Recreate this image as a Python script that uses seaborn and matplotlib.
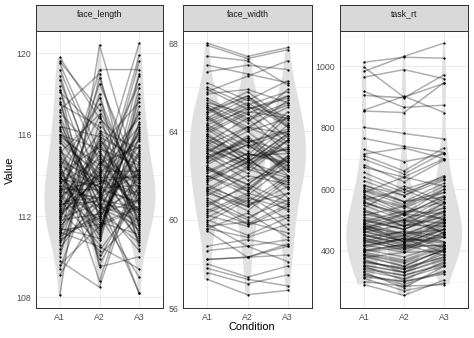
import numpy as np
import pandas as pd
import matplotlib
matplotlib.use("Agg")
import matplotlib.pyplot as plt
import seaborn as sns
from matplotlib.ticker import MultipleLocator

conditions = ["A1", "A2", "A3"]
measures = ["face_length", "face_width", "task_rt"]

face_length_A1 = [
    113.2, 116.0, 111.4, 119.6, 112.5, 114.8, 110.2, 113.9, 117.2, 112.1,
    115.3, 109.4, 113.5, 111.9, 118.4, 114.2, 112.8, 116.7, 110.9, 113.0,
    114.5, 111.2, 119.8, 112.3, 115.9, 113.7, 108.1, 116.3, 112.0, 114.1,
    117.8, 111.6, 113.3, 115.0, 110.6, 112.7, 118.9, 114.4, 111.0, 113.6,
    116.9, 112.2, 109.8, 114.7, 113.1, 117.5, 111.8, 115.6, 112.9, 110.4,
    114.0, 119.2, 112.6, 116.4, 111.3, 113.8, 115.1, 109.1, 112.4, 114.3,
    118.1, 111.5, 113.4, 116.0, 110.7, 112.5, 115.8, 113.0, 117.1, 111.1,
    114.6, 112.2, 118.7, 113.9, 110.0, 115.4, 112.0, 116.2, 111.7, 113.5,
    119.5, 112.8, 114.9, 111.4, 117.6, 113.2, 110.8, 115.2, 112.3, 114.1,
    116.6, 111.9, 113.7, 109.6, 115.7, 112.6, 118.2, 114.5, 111.2, 113.3]
face_length_A2 = [
    112.9, 114.3, 110.9, 117.2, 113.6, 111.5, 115.8, 112.2, 119.0, 113.9,
    111.0, 114.7, 116.1, 112.6, 109.6, 113.2, 115.2, 112.0, 118.8, 114.0,
    113.4, 110.5, 116.8, 112.8, 114.5, 111.7, 120.4, 113.1, 115.5, 112.4,
    109.5, 114.2, 113.7, 111.2, 116.0, 112.9, 113.3, 117.5, 111.9, 114.8,
    112.5, 115.0, 108.5, 113.8, 111.4, 116.4, 112.1, 114.1, 118.5, 113.0,
    110.8, 114.6, 112.7, 115.9, 111.6, 113.5, 117.0, 112.3, 114.4, 110.1,
    116.2, 113.2, 111.8, 115.3, 112.6, 119.2, 113.9, 111.1, 114.9, 112.0,
    108.8, 115.6, 113.6, 112.4, 116.6, 111.3, 114.0, 113.1, 118.0, 112.8,
    115.1, 110.6, 113.4, 114.3, 111.9, 116.9, 112.2, 113.7, 110.3, 115.4,
    112.5, 114.6, 117.8, 111.5, 113.0, 115.7, 112.9, 109.9, 114.1, 113.3]
face_length_A3 = [
    114.1, 112.3, 119.0, 113.6, 110.8, 115.9, 112.7, 116.5, 111.4, 113.9,
    118.3, 112.1, 114.6, 110.3, 113.2, 117.1, 111.8, 115.2, 112.9, 120.5,
    113.5, 109.4, 114.9, 112.4, 116.8, 111.1, 113.8, 118.9, 112.6, 115.5,
    110.0, 114.2, 113.0, 117.4, 111.6, 116.1, 108.2, 113.4, 115.0, 112.2,
    119.6, 111.9, 114.4, 113.1, 116.3, 110.6, 112.8, 115.7, 114.0, 111.3,
    117.8, 113.6, 108.2, 114.8, 112.5, 116.0, 111.0, 113.3, 118.5, 112.0,
    115.3, 110.9, 113.9, 114.5, 112.3, 119.2, 111.7, 116.6, 113.1, 109.0,
    114.7, 112.8, 117.0, 111.5, 113.7, 115.8, 112.1, 114.3, 110.4, 116.2,
    113.4, 118.0, 112.6, 111.2, 115.1, 113.8, 110.7, 114.0, 112.9, 117.6,
    111.8, 115.4, 113.2, 112.4, 119.9, 114.2, 111.6, 113.5, 116.4, 112.7]

face_width_A1 = [
    63.2, 65.1, 60.4, 67.9, 62.5, 59.6, 64.3, 61.2, 63.8, 57.6,
    64.9, 62.0, 66.2, 60.9, 63.4, 61.8, 65.5, 59.8, 62.9, 64.1,
    58.2, 63.0, 65.8, 61.4, 62.3, 68.0, 60.2, 64.6, 63.5, 61.0,
    62.7, 59.5, 65.2, 63.9, 60.7, 64.4, 57.3, 62.2, 66.7, 61.6,
    63.3, 64.8, 60.0, 62.6, 65.0, 58.8, 63.7, 61.3, 64.0, 62.4,
    67.4, 60.5, 63.1, 65.4, 61.9, 59.7, 64.2, 62.8, 58.0, 63.6,
    61.5, 65.7, 62.1, 60.3, 64.7, 63.0, 57.8, 62.9, 65.3, 61.1,
    63.4, 59.9, 64.5, 62.3, 67.0, 60.8, 63.8, 61.7, 64.9, 58.6,
    62.6, 65.9, 61.3, 63.2, 60.1, 64.1, 62.0, 59.6, 65.1, 63.5,
    61.8, 64.3, 60.6, 62.8, 66.0, 61.4, 63.9, 58.2, 62.4, 64.6]
face_width_A2 = [
    62.5, 64.0, 61.2, 67.3, 63.4, 59.2, 65.0, 60.6, 62.7, 57.1,
    65.6, 61.3, 65.4, 59.8, 64.2, 62.6, 64.6, 58.8, 63.5, 62.9,
    58.3, 62.1, 66.5, 62.4, 61.4, 67.4, 59.7, 63.5, 64.6, 60.1,
    63.8, 58.3, 64.4, 62.7, 61.5, 65.2, 56.6, 63.0, 67.0, 60.7,
    62.4, 65.6, 59.3, 63.7, 64.1, 59.1, 62.5, 62.3, 64.9, 61.3,
    67.2, 59.8, 64.0, 64.5, 62.8, 59.9, 63.1, 63.6, 57.4, 62.9,
    60.8, 65.9, 63.0, 61.1, 63.5, 64.2, 57.3, 61.8, 64.8, 62.0,
    62.6, 60.9, 65.3, 61.6, 66.6, 60.0, 62.9, 62.6, 65.8, 58.8,
    63.4, 65.0, 60.4, 62.3, 61.0, 65.1, 61.1, 60.3, 64.2, 62.6,
    62.8, 63.3, 61.6, 63.7, 65.2, 60.6, 64.8, 58.3, 61.6, 65.5]
face_width_A3 = [
    63.6, 64.6, 60.7, 67.7, 62.3, 59.8, 65.6, 61.5, 63.2, 57.5,
    64.2, 62.7, 66.3, 60.2, 63.9, 61.0, 65.3, 59.1, 62.4, 64.7,
    58.4, 63.6, 67.2, 61.9, 62.8, 67.8, 60.6, 64.1, 63.0, 60.9,
    62.2, 58.9, 65.9, 64.3, 60.4, 63.7, 56.8, 62.6, 66.8, 61.2,
    63.8, 64.4, 60.1, 62.0, 65.4, 58.8, 63.3, 61.7, 64.6, 62.9,
    66.1, 60.7, 62.6, 65.2, 61.5, 59.4, 64.9, 63.1, 57.9, 63.0,
    62.0, 65.3, 62.5, 60.0, 64.0, 63.4, 57.0, 62.3, 65.6, 61.6,
    63.9, 59.6, 64.2, 62.8, 66.2, 61.2, 63.2, 62.0, 64.5, 58.1,
    62.2, 65.5, 61.8, 63.6, 60.5, 64.7, 62.5, 59.2, 65.1, 63.9,
    61.4, 64.0, 60.8, 62.6, 65.8, 61.9, 63.5, 58.8, 62.9, 64.3]

task_rt_A1 = [
    1014, 998, 984, 965, 919, 906, 858, 855, 802, 766,
    480, 615, 372, 540, 455, 698, 405, 560, 330, 470,
    590, 420, 505, 365, 640, 486, 398, 528, 310, 445,
    572, 468, 380, 655, 515, 435, 350, 598, 475, 410,
    730, 452, 362, 535, 495, 290, 612, 425, 585, 388,
    462, 672, 345, 500, 415, 548, 378, 605, 440, 320,
    482, 565, 395, 628, 430, 355, 520, 472, 300, 575,
    442, 710, 402, 555, 490, 335, 595, 460, 385, 680,
    418, 510, 352, 580, 478, 325, 530, 465, 390, 715,
    432, 488, 368, 560, 450, 340, 498, 400, 315, 476]
task_rt_A2 = [
    1030, 900, 1033, 990, 867, 898, 903, 850, 782, 740,
    455, 560, 330, 610, 420, 650, 380, 505, 280, 520,
    640, 395, 470, 340, 590, 430, 410, 480, 270, 462,
    520, 500, 350, 600, 545, 400, 305, 560, 430, 440,
    690, 415, 345, 480, 530, 255, 580, 450, 525, 360,
    430, 640, 320, 470, 440, 500, 395, 560, 410, 300,
    450, 600, 370, 580, 465, 330, 490, 440, 285, 540,
    410, 660, 420, 520, 455, 310, 550, 485, 350, 625,
    440, 480, 330, 545, 500, 290, 495, 430, 365, 735,
    405, 520, 340, 515, 425, 320, 470, 420, 300, 445]
task_rt_A3 = [
    1027, 945, 1076, 960, 874, 973, 850, 947, 764, 720,
    500, 590, 400, 560, 480, 720, 420, 540, 350, 455,
    610, 445, 530, 390, 635, 470, 420, 555, 295, 430,
    600, 490, 405, 640, 500, 460, 365, 575, 495, 425,
    715, 470, 380, 510, 520, 305, 630, 410, 560, 400,
    485, 700, 360, 525, 395, 570, 400, 620, 455, 330,
    505, 545, 415, 645, 445, 375, 540, 490, 290, 590,
    460, 735, 385, 575, 470, 350, 610, 480, 405, 695,
    430, 530, 370, 600, 460, 335, 555, 445, 410, 700,
    450, 505, 380, 580, 470, 355, 515, 415, 325, 495]

y_ticks = {
    "face_length": [108, 112, 116, 120],
    "face_width": [56, 60, 64, 68],
    "task_rt": [400, 600, 800, 1000],
}

series = {
    "face_length": [face_length_A1, face_length_A2, face_length_A3],
    "face_width": [face_width_A1, face_width_A2, face_width_A3],
    "task_rt": [task_rt_A1, task_rt_A2, task_rt_A3],
}

rows = []
for m in measures:
    for ci, c in enumerate(conditions):
        for sid, v in enumerate(series[m][ci]):
            rows.append({"measure": m, "condition": c, "subject": sid, "value": v})
df = pd.DataFrame(rows)
df["condition"] = pd.Categorical(df["condition"], categories=conditions, ordered=True)
df["xpos"] = df["condition"].cat.codes

sns.set_theme(style="white")
plt.rcParams["font.family"] = ["Liberation Sans", "DejaVu Sans"]

W, H = 474, 338
fig = plt.figure(figsize=(W / 72, H / 72), dpi=72)

panels = [(36, 163), (183, 312), (340, 468)]
top_px, bot_px = 30.5, 308
strip_top = 5

grey20 = "#333333"
grey30 = "#4D4D4D"
grey92 = "#EBEBEB"

for m, (x0, x1) in zip(measures, panels):
    ax = fig.add_axes([x0 / W, 1 - bot_px / H, (x1 - x0) / W, (bot_px - top_px) / H])
    sub = df[df["measure"] == m]
    ax.set_axisbelow(True)
    sns.violinplot(data=sub, x="condition", y="value", order=conditions,
                   color="#E0E0E0", saturation=1, linewidth=0, inner=None,
                   cut=0, density_norm="area", width=0.9, bw_adjust=0.85, ax=ax)
    for coll in ax.collections:
        coll.set_edgecolor("none")
    sns.lineplot(data=sub, x="xpos", y="value", units="subject", estimator=None,
                 sort=False, color="black", alpha=0.32, linewidth=1.5, ax=ax,
                 legend=False)
    sns.scatterplot(data=sub, x="xpos", y="value", color="black", s=5,
                    linewidth=0, ax=ax, legend=False, zorder=5)
    vmin, vmax = sub["value"].min(), sub["value"].max()
    rng = vmax - vmin
    ax.set_ylim(vmin - 0.05 * rng, vmax + 0.05 * rng)
    ax.set_xlim(-0.6, 2.6)
    ax.set_xticks(range(len(conditions)))
    ax.set_xticklabels(conditions)
    ax.set_yticks(y_ticks[m])
    step = y_ticks[m][1] - y_ticks[m][0]
    ax.yaxis.set_minor_locator(MultipleLocator(step / 2))
    ax.grid(True, which="major", color=grey92, linewidth=1.1)
    ax.grid(True, which="minor", axis="y", color=grey92, linewidth=0.55)
    ax.set_xlabel("")
    ax.set_ylabel("")
    ax.tick_params(axis="both", which="major", length=2.75, width=0.8, color=grey20,
                   labelsize=8.8, labelcolor=grey30, pad=2)
    ax.tick_params(axis="both", which="minor", length=0)
    for s in ax.spines.values():
        s.set_color(grey20)
        s.set_linewidth(1.0)
        s.set_visible(True)
    ax.set_facecolor("white")
    # strip
    sax = fig.add_axes([x0 / W, 1 - top_px / H, (x1 - x0) / W, (top_px - strip_top) / H])
    sax.set_xticks([])
    sax.set_yticks([])
    sax.set_facecolor("#D9D9D9")
    for s in sax.spines.values():
        s.set_color(grey20)
        s.set_linewidth(1.0)
    sax.text(0.5, 0.64, m, ha="center", va="center", fontsize=8.8,
             color="#1A1A1A", transform=sax.transAxes)

fig.text(252 / W, 1 - 327 / H, "Condition", ha="center", va="center", fontsize=11, color="black")
fig.text(10 / W, 1 - 170 / H, "Value", ha="center", va="center", rotation=90, fontsize=11, color="black")

fig.savefig("out.png", dpi=72, facecolor="white")
